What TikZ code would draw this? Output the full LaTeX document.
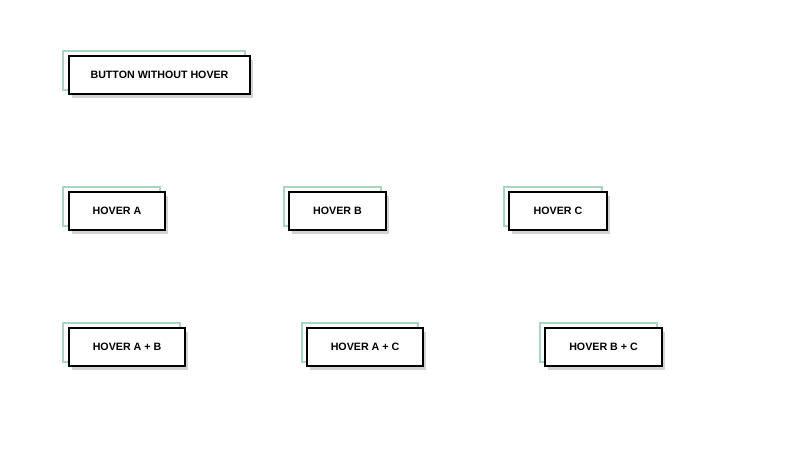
\documentclass[tikz,border=0pt]{standalone}
\usepackage{fontspec}
\setmainfont{Liberation Sans}
\usetikzlibrary{shadows}
\definecolor{gr}{HTML}{A8D5BF}
\tikzset{
 btn/.style={draw=black,line width=1.5pt,fill=white,inner sep=0pt,minimum height=28.5pt,drop shadow={opacity=0.35,shadow xshift=2pt,shadow yshift=-3pt},font=\bfseries\fontsize{8}{10}\selectfont},
 ghost/.style={draw=gr,line width=1.2pt}
}
\begin{document}
\begin{tikzpicture}[x=0.75pt,y=-0.75pt]
\useasboundingbox (0,0) rectangle (800,450);
\draw[ghost] (63,51) rectangle (245,90);
\node[btn,minimum width=135.75pt] (b0) at (159.5,75) {BUTTON WITHOUT HOVER};
\draw[ghost] (63,187) rectangle (160,226);
\node[btn,minimum width=72pt] (ba) at (117,211) {HOVER A};
\draw[ghost] (284,187) rectangle (381,226);
\node[btn,minimum width=72.75pt] (bb) at (337.5,211) {HOVER B};
\draw[ghost] (504,187) rectangle (602,226);
\node[btn,minimum width=73.5pt] (bc) at (558,211) {HOVER C};
\draw[ghost] (63,323) rectangle (180,362);
\node[btn,minimum width=87pt] (bab) at (127,347) {HOVER A + B};
\draw[ghost] (302,323) rectangle (418,362);
\node[btn,minimum width=87pt] (bac) at (365,347) {HOVER A + C};
\draw[ghost] (540,323) rectangle (657,362);
\node[btn,minimum width=87.75pt] (bbc) at (603.5,347) {HOVER B + C};
\end{tikzpicture}
\end{document}
